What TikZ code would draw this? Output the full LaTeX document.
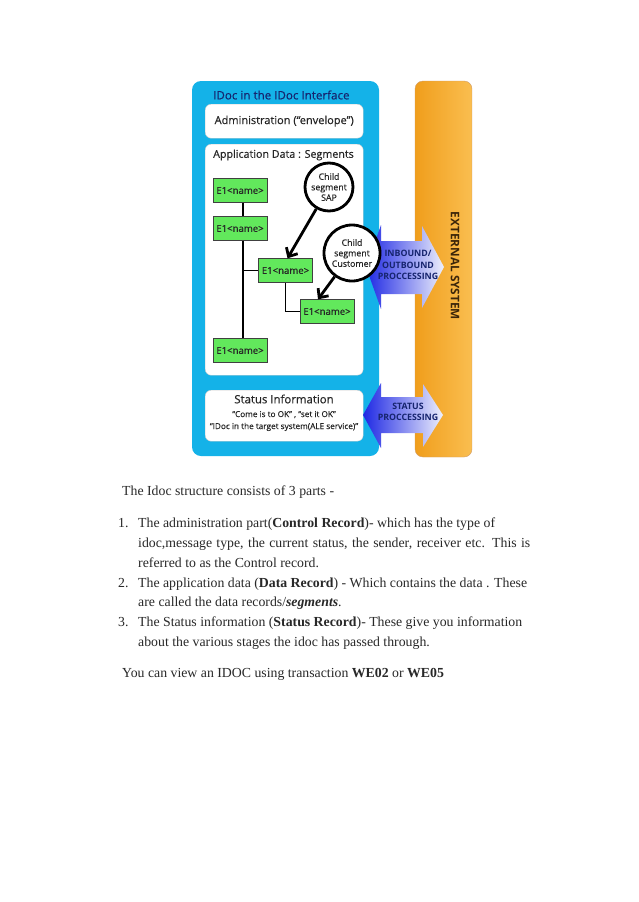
\documentclass[tikz,border=0pt]{standalone}
\usepackage{fontspec}
\setmainfont{Liberation Serif}
\newfontfamily\diag[FakeBold=0.4]{Open Sans}
\newfontfamily\diagb{Open Sans}
\usetikzlibrary{arrows.meta}
\pgfdeclarelayer{back}
\pgfsetlayers{back,main}
\definecolor{cyanbox}{RGB}{20,178,232}
\definecolor{orangeL}{RGB}{240,158,28}
\definecolor{orangeR}{RGB}{250,190,80}
\definecolor{navytxt}{RGB}{22,36,110}
\definecolor{greenbox}{RGB}{98,232,92}
\definecolor{arrowblue}{RGB}{30,40,228}
\definecolor{arrowpale}{RGB}{238,240,252}
\definecolor{bodytxt}{RGB}{40,40,40}
\definecolor{exttxt}{RGB}{60,38,10}
\tikzset{
  panel/.style={draw=gray!40, fill=white, rounded corners=6pt, anchor=north west, inner sep=0pt},
  seg/.style={draw=gray!50!black, fill=greenbox, minimum width=54pt, minimum height=24pt, inner sep=0pt,
     font=\diag\fontsize{9.6}{10}\selectfont, text=black!85},
  bubble/.style={circle, draw=black, line width=2.8pt, fill=white, inner sep=0pt, align=center,
     font=\diag\fontsize{8.8}{10.5}\selectfont, text=black!85},
  tree/.style={draw=black, line width=1.6pt},
  pointer/.style={draw=black, line width=2.8pt, -{Straight Barb[length=7pt,width=13pt,line width=2.8pt]}},
  arrtxt/.style={text=navytxt, align=center, font=\diagb\bfseries\fontsize{8.8}{11.3}\selectfont, inner sep=0pt},
  body/.style={anchor=base west, inner sep=0pt, text=bodytxt, font=\fontsize{13.8}{15}\selectfont},
}
\begin{document}
\begin{tikzpicture}[x=1pt,y=-1pt]
\useasboundingbox (0,0) rectangle (638,902);
\begin{pgfonlayer}{back}
\fill[white] (0,0) rectangle (638,902);
% external system
\shade[left color=orangeL, right color=orangeR, rounded corners=8pt, draw=orange!70!black!60] (415,81) rectangle (472,457);
% IDoc container
\fill[cyanbox, rounded corners=9pt] (192,81) rectangle (379,456);
\node[panel, minimum width=158pt, minimum height=34pt] (admin) at (205,104) {};
\node[panel, minimum width=158pt, minimum height=231pt] (app) at (205,144) {};
\node[panel, minimum width=158pt, minimum height=51pt] (status) at (205,390) {};
% processing arrows
\shade[left color=arrowblue, right color=arrowpale]
  (366,267) -- (381,225) -- (381,241) -- (422,241) -- (422,226) -- (444,267)
  -- (422,308) -- (422,294) -- (381,294) -- (381,309) -- cycle;
\shade[left color=arrowblue, right color=arrowpale]
  (363,415) -- (381,383) -- (381,397) -- (423,397) -- (423,384) -- (443,415)
  -- (423,447) -- (423,433) -- (381,433) -- (381,448) -- cycle;
\end{pgfonlayer}

\node[rotate=-90, text=exttxt, font=\diagb\bfseries\fontsize{11.8}{12}\selectfont, inner sep=0pt] (ext) at (455,266) {EXTERNAL SYSTEM};
\node[arrtxt] (inout) at (408,265) {INBOUND/\\OUTBOUND\\PROCCESSING};
\node[arrtxt] (stproc) at (408,412) {STATUS\\PROCCESSING};

\node[anchor=west, text=navytxt, font=\diag\fontsize{11.6}{12}\selectfont, inner sep=0pt] (title) at (213,95) {IDoc in the IDoc Interface};
\node[font=\diag\fontsize{11}{12}\selectfont, text=black!85, inner sep=0pt] (admintxt) at (admin.center) {Administration (“envelope”)};
\node[anchor=west, font=\diag\fontsize{10.7}{12}\selectfont, text=black!85, inner sep=0pt] (apptxt) at (213,155) {Application Data : Segments};
\node[font=\diag\fontsize{11.4}{12}\selectfont, text=black!85, inner sep=0pt] (sttitle) at (284,399) {Status Information};
\node[font=\diag\fontsize{8.2}{12}\selectfont, text=black!85, inner sep=0pt, align=center] (sttxt) at (284,421)
  {“Come is to OK” , “set it OK”\\“IDoc in the target system(ALE service)”};

% segments
\node[seg] (b1) at (240,190.5) {E1<name>};
\node[seg] (b2) at (240,228.5) {E1<name>};
\node[seg] (b3) at (285.5,270.5) {E1<name>};
\node[seg] (b4) at (327,311.5) {E1<name>};
\node[seg] (b5) at (240,350.5) {E1<name>};
\coordinate (trunk) at (243,0);
\draw[tree] (b1.south -| trunk) -- (b2.north -| trunk);
\draw[tree] (b2.south -| trunk) -- (b5.north -| trunk);
\draw[tree] (b3.west -| trunk) -- (b3.west);
\draw[tree] (b3.south) -- (b3.south |- b4.west) -- (b4.west);

% bubbles
\node[bubble, minimum size=48pt] (sap) at (329,187) {Child\\segment\\SAP};
\node[bubble, minimum size=56pt] (cust) at (352,253) {Child\\segment\\Customer};
\draw[pointer] (sap) -- ([xshift=2pt]b3.north);
\draw[pointer] (cust) -- ([xshift=-9pt]b4.north);

% body text
\node[body] (t0) at (122,495) {The Idoc structure consists of 3 parts -};
\node[body] (n1) at (118,527) {1.};
\node[body] (l1a) at (138,527) {The administration part(\textbf{Control Record})- which has the type of};
\node[body] (l1b) at (138,547) {\makebox[392pt][s]{idoc,message type, the current status, the sender, receiver etc. This is}};
\node[body] (l1c) at (138,567) {referred to as the Control record.};
\node[body] (n2) at (118,587) {2.};
\node[body] (l2a) at (138,587) {The application data (\textbf{Data Record}) - Which contains the data . These};
\node[body] (l2b) at (138,606) {are called the data records/\textbf{\textit{segments}}.};
\node[body] (n3) at (118,626) {3.};
\node[body] (l3a) at (138,626) {The Status information (\textbf{Status Record})- These give you information};
\node[body] (l3b) at (138,646) {about the various stages the idoc has passed through.};
\node[body] (t9) at (122,677) {You can view an IDOC using transaction \textbf{WE02} or \textbf{WE05}};
\end{tikzpicture}
\end{document}
